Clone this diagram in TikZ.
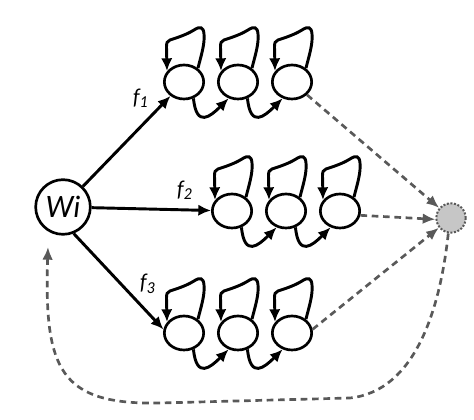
\documentclass[tikz,border=0pt]{standalone}
\usepackage{fontspec}
\setmainfont{Lato}
\usetikzlibrary{arrows.meta,shapes.geometric}
\definecolor{dashgray}{gray}{0.35}

\begin{document}
\begin{tikzpicture}[x=0.75pt, y=0.75pt,
	state/.style={draw, ellipse, line width=2pt, minimum width=29.5pt, minimum height=25.5pt, inner sep=0pt, fill=white},
	tip/.style={-{Latex[length=9.5pt,width=8.5pt]}, line width=2.2pt},
	flow/.style={dashgray, dash pattern=on 5pt off 3.5pt, line width=2pt, -{Latex[length=9.5pt,width=8pt]}},
	funclab/.style={font=\fontsize{16}{16}\selectfont\itshape}]
	\useasboundingbox (0,0) rectangle (474,420);
	\draw (63,213) node[draw, circle, line width=2pt, minimum size=41pt, inner sep=0pt, font=\fontsize{22}{22}\selectfont\itshape](w) {Wi};
	\draw (184,338) node[state](t1) {};
	\draw (238,338) node[state](t2) {};
	\draw (292,338) node[state](t3) {};
	\draw (232,209) node[state](m1) {};
	\draw (286,209) node[state](m2) {};
	\draw (340,209) node[state](m3) {};
	\draw (184,87) node[state](b1) {};
	\draw (238,87) node[state](b2) {};
	\draw (292,87) node[state](b3) {};
	\draw (451,202) node[circle, draw=dashgray, fill=gray!45, dash pattern=on 1.5pt off 1.2pt, line width=1.5pt, minimum size=22pt, inner sep=0pt](out) {};
	\coordinate (back) at (48,173);
	\draw (141,322) node[funclab](f1) {f\textsubscript{1}};
	\draw (185,230) node[funclab](f2) {f\textsubscript{2}};
	\draw (148,136) node[funclab](f3) {f\textsubscript{3}};
	\draw[tip] (w) -- (t1);
	\draw[tip] (w) -- (m1);
	\draw[tip] (w.-68) -- (b1.170);
	\foreach \n in {t1,t2,t3,m1,m2,m3,b1,b2,b3}
		\draw[tip, shift={(\n.center)}] (14,14) .. controls (17,26) and (21,38) .. (20,48) .. controls (19.5,55) and (16,56) .. (10,52) .. controls (2,47) and (-8,44) .. (-14,42) .. controls (-17,41) and (-17.5,39) .. (-17.5,35) -- (-17,11);
	\foreach \a/\b in {t1/t2,t2/t3,m1/m2,m2/m3,b1/b2,b2/b3}
		\draw[tip] (\a.-60) .. controls +(3,-30) and +(-18,-18) .. (\b.-120);
	\draw[flow] (t3) -- (out);
	\draw[flow] (m3.-12) -- (out.185);
	\draw[flow] (b3.10) -- (out);
	\draw[flow] (out.-100) .. controls (440,110) and (415,29) .. (350,22) -- (160,17) .. controls (60,15) and (44,50) .. (back);
\end{tikzpicture}
\end{document}
